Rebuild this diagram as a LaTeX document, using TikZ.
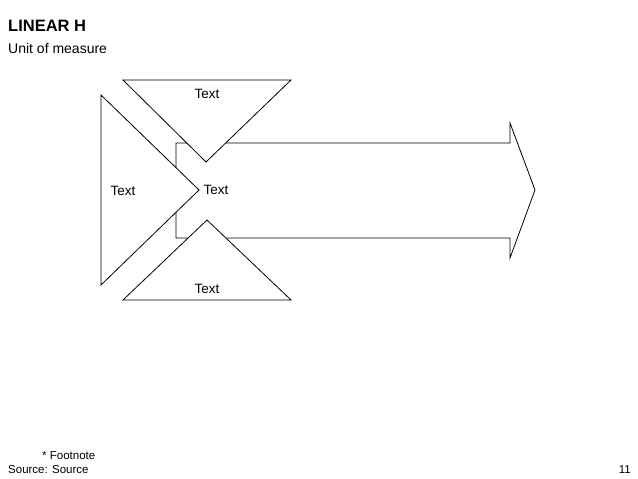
\documentclass[tikz,border=0pt]{standalone}
\usepackage{fontspec}
\setmainfont{Liberation Sans}
\begin{document}
\begin{tikzpicture}[x=1pt,y=-1pt,
  shp/.style={draw=black,fill=white,line width=0.8pt,line join=miter},
  lbl/.style={inner sep=0pt,font=\fontsize{13.5}{15}\selectfont}]
\useasboundingbox (0,0) rectangle (638,479);
\draw[shp] (176,143) -- (510,143) -- (510,123) -- (535,190) -- (510,258) -- (510,238) -- (176,238) -- cycle;
\draw[shp] (123,80) -- (291,80) -- (206,162) -- cycle;
\draw[shp] (123,300) -- (291,300) -- (207,220) -- cycle;
\draw[shp] (101,95) -- (199,190) -- (101,285) -- cycle;
\node[lbl] (t1) at (207,94) {Text};
\node[lbl] (t2) at (123,191) {Text};
\node[lbl] (t3) at (216,190) {Text};
\node[lbl] (t4) at (207,289) {Text};
\node[anchor=west,inner sep=0pt,font=\fontsize{16.5}{18}\selectfont\bfseries] (title) at (8,26) {LINEAR H};
\node[anchor=west,inner sep=0pt,font=\fontsize{14}{16}\selectfont] (sub) at (8,48) {Unit of measure};
\node[anchor=west,inner sep=0pt,font=\fontsize{11.5}{13}\selectfont] (fn) at (42,456) {* Footnote};
\node[anchor=west,inner sep=0pt,font=\fontsize{11.5}{13}\selectfont] (src) at (8,470) {Source: Source};
\node[anchor=east,inner sep=0pt,font=\fontsize{11.5}{13}\selectfont] (pg) at (631,470) {11};
\end{tikzpicture}
\end{document}
